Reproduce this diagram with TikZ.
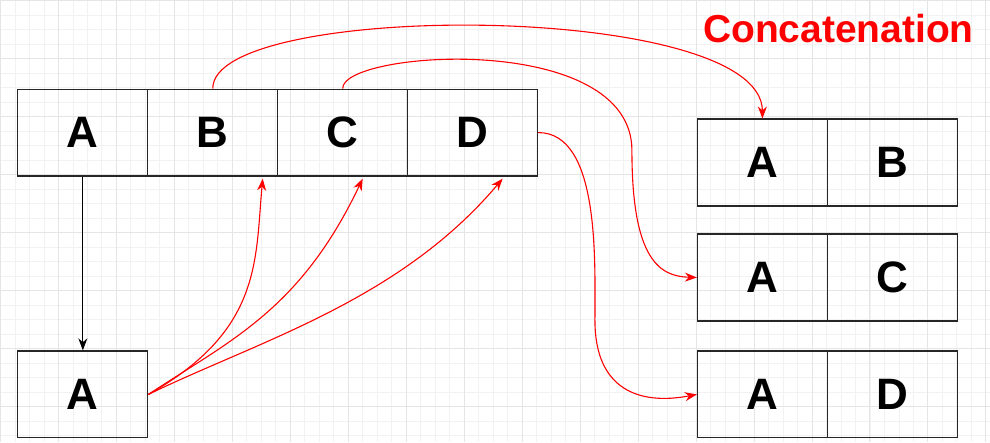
\documentclass[tikz,border=0pt]{standalone}
\usepackage{fontspec}
\setmainfont{Liberation Sans}
\usetikzlibrary{arrows.meta}
\begin{document}
\begin{tikzpicture}[x=1pt,y=-1pt,
  cell/.style={draw=black!85,line width=1.2pt,minimum width=130pt,minimum height=87pt,inner sep=0pt,font=\fontsize{44}{44}\selectfont\bfseries,anchor=north west},
  red/.style={draw={rgb,255:red,255;green,0;blue,0},line width=1.1pt,-{Stealth[length=12pt,width=9pt]}}]
\fill[white] (0,0) rectangle (990,442);
\foreach \i in {0,...,68} {\draw[black!5,line width=0.5pt] (\i*14.5,0) -- (\i*14.5,442);}
\foreach \i in {0,...,30} {\draw[black!5,line width=0.5pt] (0,\i*14.5) -- (990,\i*14.5);}
\foreach \i in {0,...,17} {\draw[black!10,line width=0.6pt] (\i*58,0) -- (\i*58,442);}
\foreach \i in {0,...,7} {\draw[black!10,line width=0.6pt] (0,\i*58) -- (990,\i*58);}
\node[cell] (a) at (17,88) {A};
\node[cell] (b) at (147,88) {B};
\node[cell] (c) at (277,88) {C};
\node[cell] (d) at (407,88) {D};
\node[cell] (a2) at (17,350) {A};
\node[cell] (ab1) at (697,118) {A};
\node[cell] (ab2) at (827,118) {B};
\node[cell] (ac1) at (697,233) {A};
\node[cell] (ac2) at (827,233) {C};
\node[cell] (ad1) at (697,350) {A};
\node[cell] (ad2) at (827,350) {D};
\node[anchor=north west,inner sep=0pt,text={rgb,255:red,255;green,0;blue,0},font=\fontsize{39}{39}\selectfont\bfseries] (t) at (703,14) {Concatenation};
\draw[line width=1.1pt,-{Stealth[length=12pt,width=9pt]}] (a.south) -- (a2.north);
\draw[red] (a2.east) .. controls (262,330) and (255,260) .. ([xshift=50pt,yshift=-2pt]b.south);
\draw[red] (a2.east) .. controls (230,340) and (300,310) .. ([xshift=20pt,yshift=-2pt]c.south);
\draw[red] (a2.east) .. controls (260,340) and (400,300) .. ([xshift=30pt,yshift=-2pt]d.south);
\draw[red] (b.north) .. controls (212,0) and (762,0) .. (ab1.north);
\draw[red] (c.north) .. controls (342,50) and (632,30) .. (632,150) .. controls (632,260) and (660,276) .. (ac1.west);
\draw[red] (d.east) .. controls (600,132) and (595,260) .. (595,320) .. controls (595,390) and (640,405) .. (ad1.west);
\end{tikzpicture}
\end{document}
